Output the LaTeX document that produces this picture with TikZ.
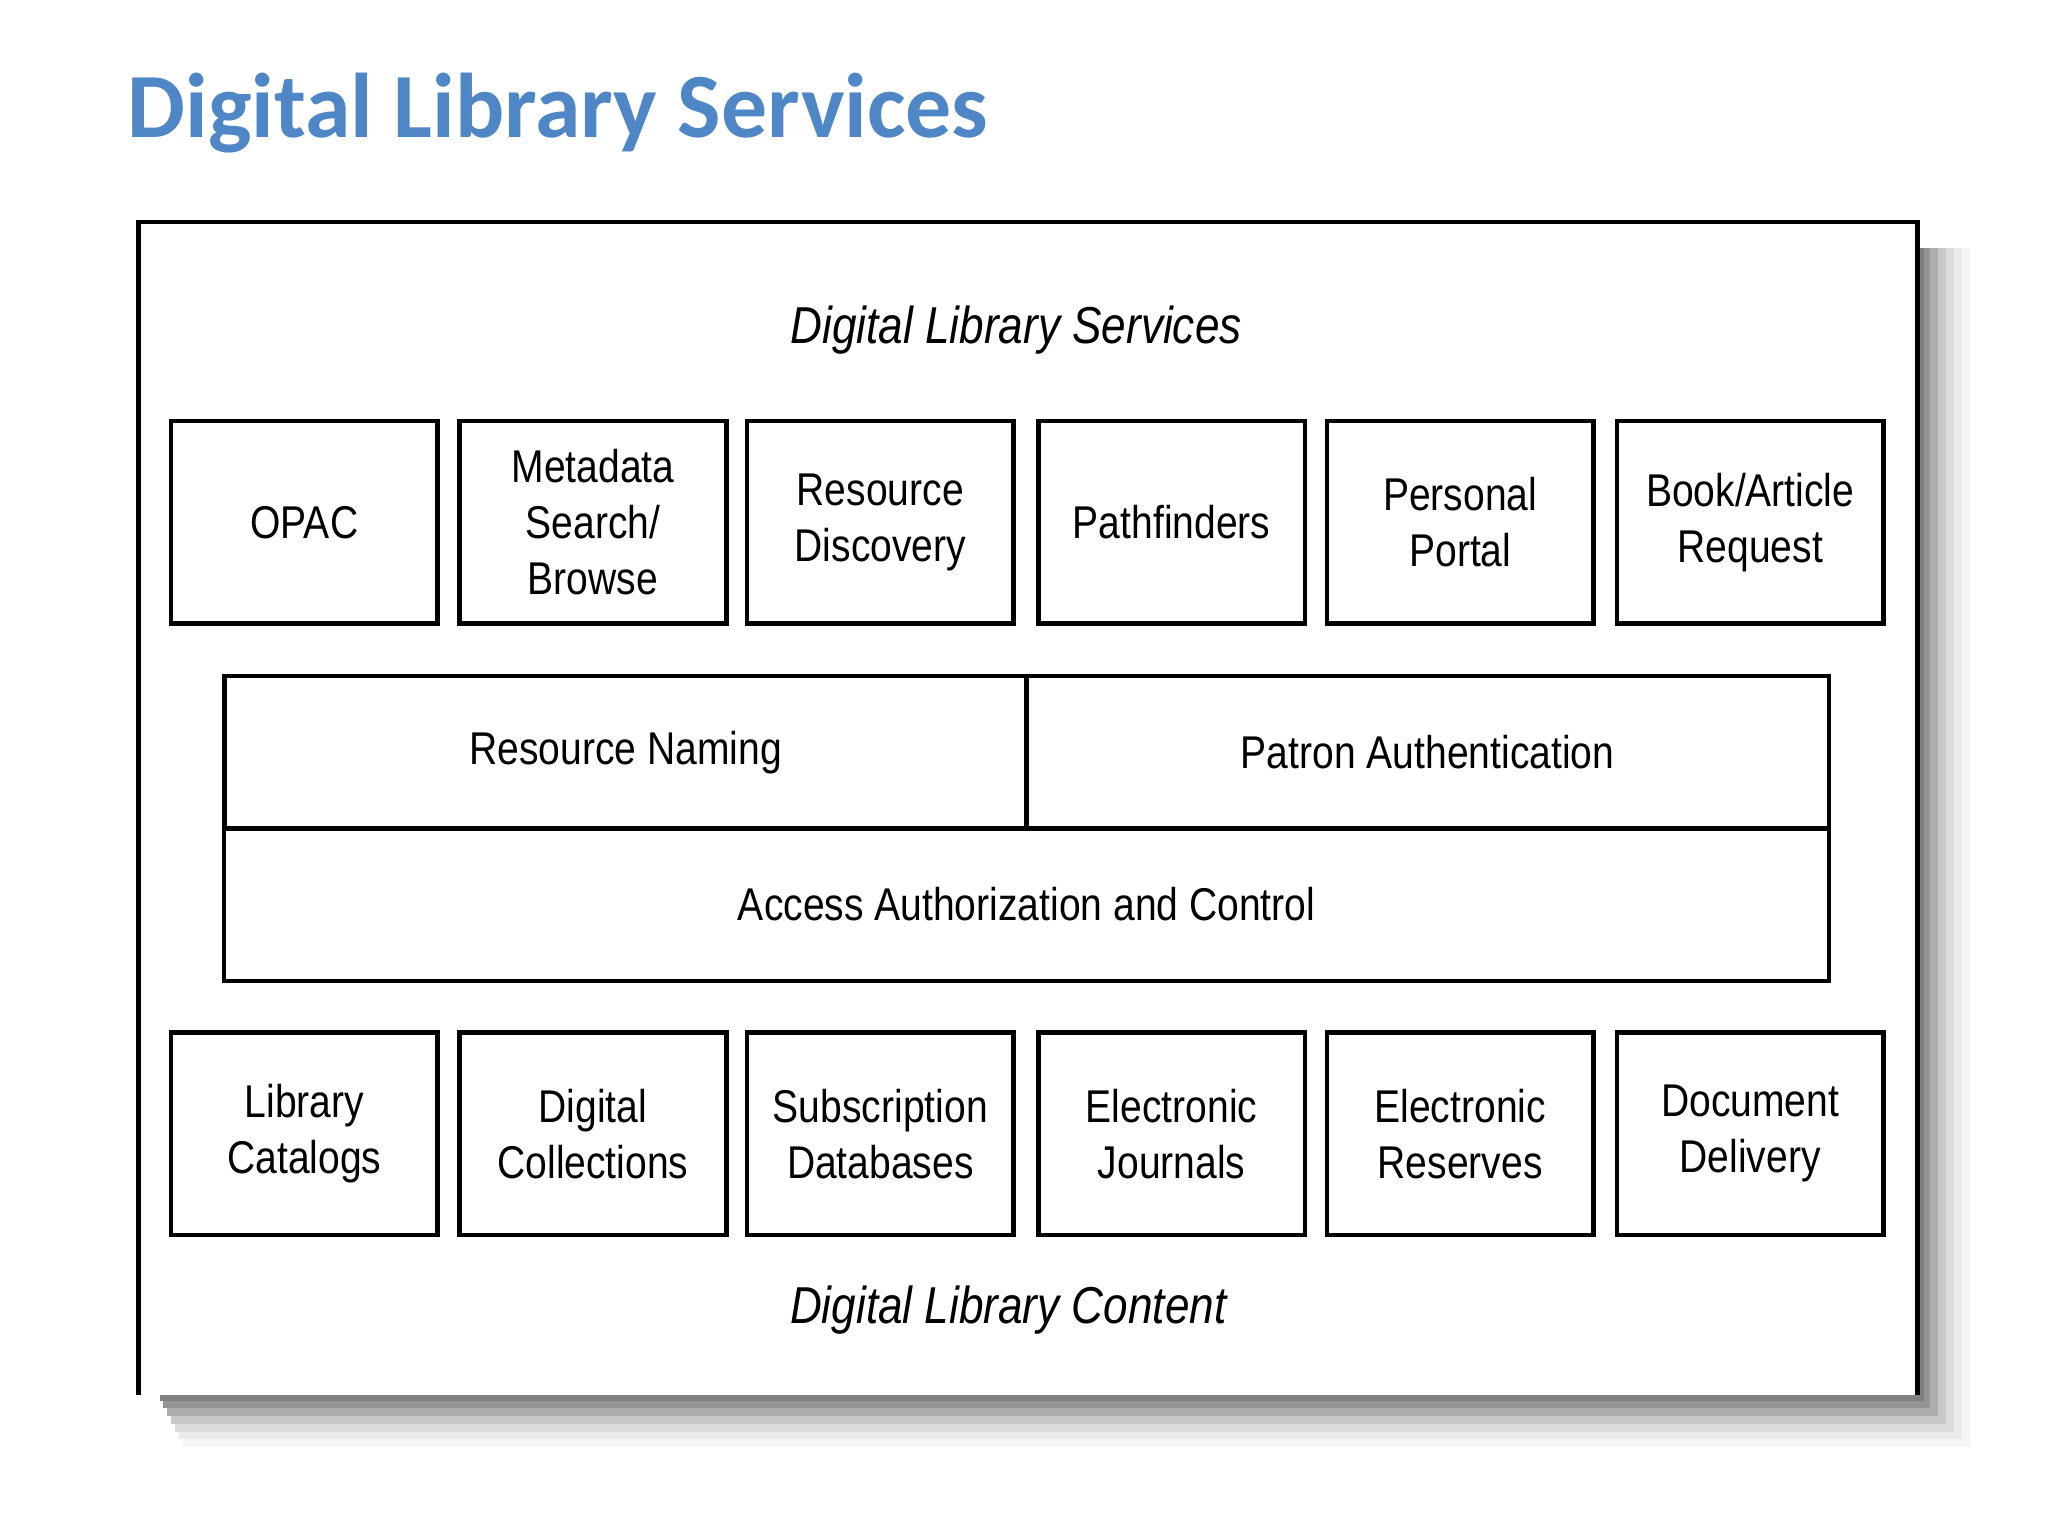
\documentclass[tikz,border=0pt]{standalone}
\usepackage{fontspec}
\newfontfamily\titlefont{Carlito}
\newfontfamily\boxfont[FakeStretch=0.85]{Liberation Sans}
\definecolor{titleblue}{HTML}{4F86C6}
\begin{document}
\begin{tikzpicture}[x=0.01cm,y=-0.01cm,
  cell/.style={draw=black,line width=1pt,minimum width=2.04cm,minimum height=1.55cm,font=\boxfont\fontsize{10}{12.2}\selectfont,align=center,inner sep=0pt},
  band/.style={draw=black,line width=1pt,minimum height=1.17cm,font=\boxfont\fontsize{10}{12.2}\selectfont,inner sep=0pt},
  captext/.style={font=\boxfont\itshape\fontsize{11.3}{14}\selectfont}]
\useasboundingbox (0,0) rectangle (1568,1176);
% shadow
\foreach \i/\c in {40/4,34/8,28/14,22/22,16/32,10/42,5/50}{
  \fill[black!\c] (120+\i*0.5,190) rectangle (1468+\i,1068+\i);
}
\fill[white] (106,170) rectangle (1468,1068);
\node[anchor=base west,font=\titlefont\bfseries\fontsize{20}{24}\selectfont,text=titleblue,inner sep=0pt] (title) at (97,105) {Digital Library Services};
\draw[line width=1pt] (106,1068) -- (106,170) -- (1468,170) -- (1468,1068);
\node[captext] (svc) at (778,253) {Digital Library Services};
\node[captext] (cnt) at (772,1003) {Digital Library Content};
% top row
\node[cell] (t1) at (233,400) {OPAC};
\node[cell] (t2) at (454,400) {Metadata\\Search/\\Browse};
\node[cell] (t3) at (674,400) {Resource\\Discovery};
\node[cell] (t4) at (897,400) {Pathfinders};
\node[cell] (t5) at (1118,400) {Personal\\Portal};
\node[cell] (t6) at (1340,400) {Book/Article\\Request};
% middle
\node[band,minimum width=6.14cm] (rn) at (479,576) {Resource Naming};
\node[band,minimum width=6.14cm] (pa) at (1093,576) {Patron Authentication};
\node[band,minimum width=12.28cm] (aa) at (786,692.5) {Access Authorization and Control};
% bottom row
\node[cell] (b1) at (233,868) {Library\\Catalogs};
\node[cell] (b2) at (454,868) {Digital\\Collections};
\node[cell] (b3) at (674,868) {Subscription\\Databases};
\node[cell] (b4) at (897,868) {Electronic\\Journals};
\node[cell] (b5) at (1118,868) {Electronic\\Reserves};
\node[cell] (b6) at (1340,868) {Document\\Delivery};
\end{tikzpicture}
\end{document}
